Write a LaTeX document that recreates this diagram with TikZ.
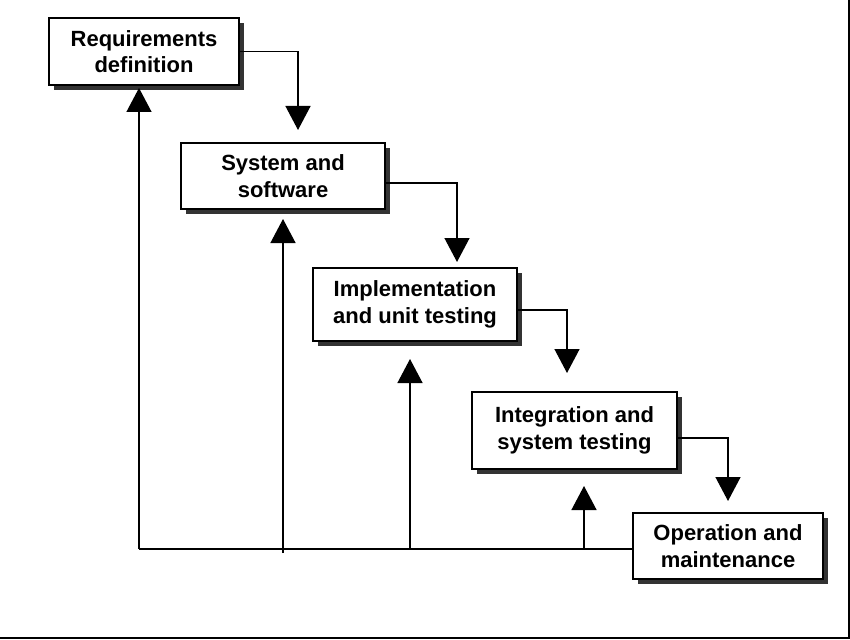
\documentclass[tikz,border=0pt]{standalone}
\usepackage{fontspec}
\setmainfont{Liberation Sans}
\usetikzlibrary{arrows.meta,shadows}
\begin{document}
\begin{tikzpicture}[x=1pt,y=-1pt,
  phase/.style={draw=black,line width=1.8pt,fill=white,inner sep=0pt,align=center,
    font=\fontsize{22}{26.5}\selectfont\bfseries,
    drop shadow={shadow xshift=5pt,shadow yshift=-5pt,fill=black!80,opacity=1}},
  flow/.style={line width=1.4pt,-{Triangle[length=24pt,width=25pt]}},
  link/.style={line width=1.4pt}]
\useasboundingbox (0,0) rectangle (850,639);
% frame
\coordinate (fa) at (0,637.5);
\coordinate (fb) at (848.5,637.5);
\coordinate (fc) at (848.5,0);
\draw[line width=2pt] (fa) -- (fb) -- (fc);
% phases
\node[phase,minimum width=190pt,minimum height=67pt] (req) at (144,51.5) {Requirements\\definition};
\node[phase,minimum width=204pt,minimum height=66pt] (sys) at (283,176) {System and\\software};
\node[phase,minimum width=204pt,minimum height=73pt] (imp) at (415,304.5) {Implementation\\and unit testing};
\node[phase,minimum width=205pt,minimum height=77pt] (int) at (574.5,430.5) {Integration and\\system testing};
\node[phase,minimum width=190pt,minimum height=66pt] (ops) at (728,546) {Operation and\\maintenance};
% forward flow
\coordinate (d1) at (298,130);
\coordinate (d2) at (457,262);
\coordinate (d3) at (567,373);
\coordinate (d4) at (728,501);
\draw[flow] (req.east) -| (d1);
\draw[flow] ([yshift=-7pt]sys.east) -| (d2);
\draw[flow] ([yshift=-5.5pt]imp.east) -| (d3);
\draw[flow] ([yshift=-7.5pt]int.east) -| (d4);
% feedback
\coordinate (b0) at (139,549);
\coordinate (b1) at (283,553);
\coordinate (b2) at (410,549);
\coordinate (b3) at (584,549);
\coordinate (u0) at (139,88);
\coordinate (u1) at (283,219);
\coordinate (u2) at (410,359);
\coordinate (u3) at (584,486);
\draw[link] (b0) -- (ops.west |- b0);
\draw[flow] (b0) -- (u0);
\draw[flow] (b1) -- (u1);
\draw[flow] (b2) -- (u2);
\draw[flow] (b3) -- (u3);
\end{tikzpicture}
\end{document}
